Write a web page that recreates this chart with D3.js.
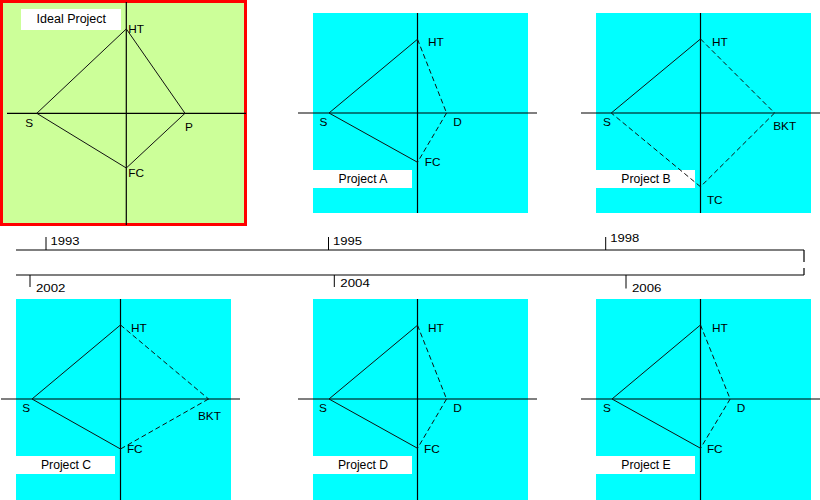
<!DOCTYPE html>
<html><head><meta charset="utf-8">
<script src="https://cdn.jsdelivr.net/npm/d3@7"></script>
<style>
html,body{margin:0;padding:0;background:#fff;}
svg{display:block;font-family:"Liberation Sans",Arial,sans-serif;}
</style></head>
<body>
<svg id="c" width="820" height="500"></svg>
<script>
// ---------- DATA ----------
const projects = ["Ideal Project","Project A","Project B","Project C","Project D","Project E"];
const topLabels = ["HT","HT","HT","HT","HT","HT"];
const rightLabels = ["P","D","BKT","BKT","D","D"];
const bottomLabels = ["FC","FC","TC","FC","FC","FC"];
const leftLabels = ["S","S","S","S","S","S"];
const topValues = [5.72,5.0,5.02,5.02,5.0,5.02];
const rightValues = [3.98,1.97,5.02,5.97,1.97,2.01];
const bottomValues = [3.71,3.34,5.0,3.39,3.34,3.34];
const leftValues = [6.07,6.0,6.05,6.0,6.0,6.0];
// edges in order S-HT, HT-right, right-bottom, bottom-S : 1 = dashed
const dashedEdges = [[0,0,0,0],[0,1,1,0],[0,1,1,1],[0,1,1,0],[0,1,1,0],[0,1,1,0]];
const timelineTopYears = [1993,1995,1998];
const timelineBottomYears = [2002,2004,2006];

// ---------- LAYOUT ----------
const UNIT = 14.75;
const panels = [
  {x:0,y:0,w:247,h:226,ideal:true,ox:126.3,oy:113.3,hx:[7,246],vy:[2,225]},
  {x:313,y:13,w:215,h:200},
  {x:596,y:13,w:215,h:200},
  {x:16,y:299,w:215,h:201},
  {x:313,y:299,w:215,h:201},
  {x:596,y:299,w:215,h:201}
];
panels.forEach(p=>{
  if(!p.ideal){p.ox=p.x+104.5;p.oy=p.y+100;p.hx=[p.x-15,p.x+224];p.vy=[p.y,p.y+p.h];}
});
// label offsets [dx,dy,anchor]
const lblTop   = [[2,0,"start"],[10.5,2.5,"start"],[11.4,3,"start"],[10.4,2.7,"start"],[10.6,2.4,"start"],[11.4,2.7,"start"]];
const lblLeft  = [[-7.7,10,"middle"],[-5.6,9.3,"middle"],[-4.3,9,"middle"],[-5.7,9,"middle"],[-6,9.3,"middle"],[-5,9,"middle"]];
const lblRight = [[4,14,"middle"],[6.6,9.3,"start"],[-1.3,12.7,"start"],[-10.6,16.7,"start"],[6.6,9.3,"start"],[6.7,9,"start"]];
const lblBottom= [[2,5.3,"start"],[7.3,0,"start"],[6.4,13.3,"start"],[6.4,0,"start"],[6.6,1,"start"],[6.4,0.7,"start"]];

const svg = d3.select("#c");

projects.forEach((name,i)=>{
  const p = panels[i];
  const g = svg.append("g");
  const xs = d3.scaleLinear().domain([0,1]).range([p.ox,p.ox+UNIT]);
  const ys = d3.scaleLinear().domain([0,1]).range([p.oy,p.oy-UNIT]);
  if(p.ideal){
    g.append("rect").attr("x",p.x+1.5).attr("y",p.y+1.5).attr("width",p.w-3).attr("height",p.h-3)
      .attr("fill","#CCFF99").attr("stroke","#FF0000").attr("stroke-width",3);
    g.append("rect").attr("x",21).attr("y",9).attr("width",100).attr("height",21).attr("fill","#fff");
    g.append("text").attr("x",71.3).attr("y",19).attr("text-anchor","middle").attr("dominant-baseline","central")
      .attr("font-size",12.5).attr("fill","#000").text(name);
  } else {
    g.append("rect").attr("x",p.x).attr("y",p.y).attr("width",p.w).attr("height",p.h).attr("fill","#00FFFF");
    g.append("rect").attr("x",p.x).attr("y",p.y+157).attr("width",99).attr("height",18).attr("fill","#fff");
    g.append("text").attr("x",p.x+50).attr("y",p.y+166.3).attr("text-anchor","middle").attr("dominant-baseline","central")
      .attr("font-size",12.2).attr("fill","#000").text(name);
  }
  // axes
  g.append("line").attr("x1",p.hx[0]).attr("x2",p.hx[1]).attr("y1",ys(0)).attr("y2",ys(0))
    .attr("stroke","#000").attr("stroke-width",1.2);
  g.append("line").attr("x1",xs(0)).attr("x2",xs(0)).attr("y1",p.vy[0]).attr("y2",p.vy[1])
    .attr("stroke","#000").attr("stroke-width",1.2);
  // points
  const pts = [
    [xs(-leftValues[i]), ys(0)],
    [xs(0), ys(topValues[i])],
    [xs(rightValues[i]), ys(0)],
    [xs(0), ys(-bottomValues[i])]
  ];
  const edges = d3.range(4).map(k=>({a:pts[k],b:pts[(k+1)%4],dash:dashedEdges[i][k]}));
  g.selectAll("line.edge").data(edges).join("line").attr("class","edge")
    .attr("x1",d=>d.a[0]).attr("y1",d=>d.a[1]).attr("x2",d=>d.b[0]).attr("y2",d=>d.b[1])
    .attr("stroke","#111").attr("stroke-width",1)
    .attr("stroke-dasharray",d=>d.dash?"5,3":null);
  // labels
  const labs = [
    {t:leftLabels[i],p:pts[0],o:lblLeft[i]},
    {t:topLabels[i],p:pts[1],o:lblTop[i]},
    {t:rightLabels[i],p:pts[2],o:lblRight[i]},
    {t:bottomLabels[i],p:pts[3],o:lblBottom[i]}
  ];
  g.selectAll("text.lab").data(labs).join("text").attr("class","lab")
    .attr("x",d=>d.p[0]+d.o[0]).attr("y",d=>d.p[1]+d.o[1])
    .attr("text-anchor",d=>d.o[2]).attr("dominant-baseline","central")
    .attr("font-size",11.8).attr("fill","#000").text(d=>d.t);
});

// ---------- TIMELINE ----------
const tl = svg.append("g").attr("stroke","#000");
const xTop = d3.scaleLinear().domain(timelineTopYears).range([46,328.5,605.7]);
const xBot = d3.scaleLinear().domain(timelineBottomYears).range([30,334.3,626]);
const yTop = 250, yBot = 275, xEnd = 804, xStart = 16;
tl.append("line").attr("x1",xStart).attr("x2",xEnd).attr("y1",yTop).attr("y2",yTop).attr("stroke-width",1.2);
tl.append("line").attr("x1",xStart).attr("x2",xEnd).attr("y1",yBot).attr("y2",yBot).attr("stroke-width",1.2);
tl.append("line").attr("x1",xEnd).attr("x2",xEnd).attr("y1",yTop).attr("y2",262).attr("stroke-width",1.2);
tl.append("line").attr("x1",xEnd).attr("x2",xEnd).attr("y1",268).attr("y2",yBot).attr("stroke-width",1.2);
const topDy = [0.5,0.5,-2.5];
const botDy = [0,-4.5,0.5];
svg.selectAll("line.tt").data(timelineTopYears).join("line").attr("class","tt")
  .attr("x1",d=>xTop(d)).attr("x2",d=>xTop(d)).attr("y1",yTop).attr("y2",d=>yTop-13)
  .attr("stroke","#000").attr("stroke-width",1);
svg.selectAll("text.ty").data(timelineTopYears).join("text").attr("class","ty")
  .attr("x",d=>xTop(d)+4.5).attr("y",(d,k)=>240.5+topDy[k]).attr("dominant-baseline","central")
  .attr("font-size",10.5).attr("textLength",29).attr("lengthAdjust","spacingAndGlyphs").attr("fill","#000").text(d=>d);
svg.selectAll("line.bt").data(timelineBottomYears).join("line").attr("class","bt")
  .attr("x1",d=>xBot(d)).attr("x2",d=>xBot(d)).attr("y1",yBot).attr("y2",(d,k)=>yBot+12+(k===2?1.5:0))
  .attr("stroke","#000").attr("stroke-width",1);
svg.selectAll("text.by").data(timelineBottomYears).join("text").attr("class","by")
  .attr("x",d=>xBot(d)+6).attr("y",(d,k)=>287.5+botDy[k]).attr("dominant-baseline","central")
  .attr("font-size",10.5).attr("textLength",29.5).attr("lengthAdjust","spacingAndGlyphs").attr("fill","#000").text(d=>d);
</script>
</body></html>
